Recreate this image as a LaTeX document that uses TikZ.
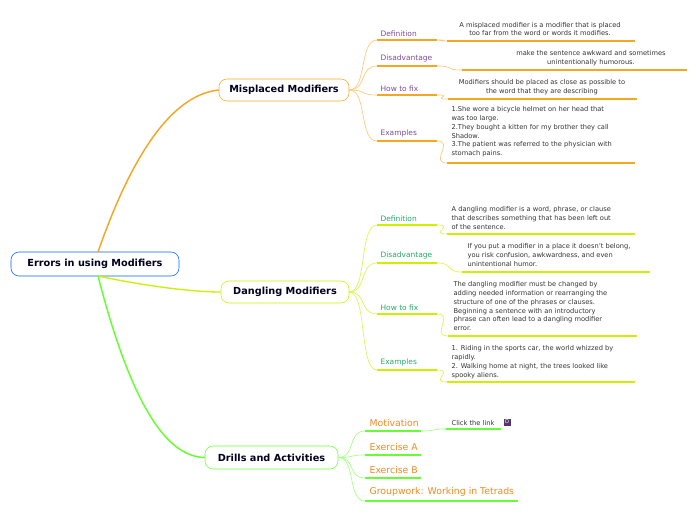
\documentclass[tikz,border=0pt]{standalone}
\usepackage{fontspec}
\setmainfont{DejaVu Sans}
\begin{document}
\begin{tikzpicture}[x=0.75pt,y=-0.75pt,
  leaf/.style={font=\fontsize{5}{6.6}\selectfont,text=black!80,inner sep=1pt},
  lab/.style={font=\fontsize{5.6}{7}\selectfont,inner sep=1pt,anchor=south west},
  big/.style={font=\fontsize{7}{8}\selectfont,inner sep=1pt,anchor=south west},
  main/.style={draw,rounded corners=6pt,font=\bfseries\fontsize{7.3}{9}\selectfont,text=black!80!blue!60!black,inner sep=0pt}]
\definecolor{orng}{HTML}{F5A623}
\definecolor{ylw}{HTML}{CCF000}
\definecolor{grn}{HTML}{66FF33}
\definecolor{purp}{HTML}{7B4A9C}
\definecolor{dgrn}{HTML}{22AA66}
\definecolor{lorng}{HTML}{F08A24}
\useasboundingbox (0,0) rectangle (696,520);
% main nodes
\node[main,draw=blue!60!cyan,minimum width=168*0.75pt,minimum height=24*0.75pt,fill=white] (root) at (95,264) {Errors in using Modifiers};
\node[main,draw=orng,minimum width=130*0.75pt,minimum height=22*0.75pt] (mis) at (284,90) {Misplaced Modifiers};
\node[main,draw=ylw,minimum width=128*0.75pt,minimum height=22*0.75pt] (dan) at (285,292) {Dangling Modifiers};
\node[main,draw=grn,minimum width=133*0.75pt,minimum height=23*0.75pt] (dri) at (271.5,457.5) {Drills and Activities};
\coordinate (r1) at (98,252);
\coordinate (r2) at (98,276);
\draw[orng,line width=1.1pt] (r1) .. controls (130,160) and (170,95) .. (mis.west);
\draw[ylw,line width=1pt] (r2) .. controls (140,285) and (190,292) .. (dan.west);
\draw[grn,line width=1.1pt] (r2) .. controls (130,400) and (165,457) .. (dri.west);
% helper: name, x1, x2, y, colour, style
\newcommand\ul[5]{\coordinate (#1a) at (#2,#4);\coordinate (#1b) at (#3,#4);\draw[#5,line width=1pt] (#1a) -- (#1b);}
\newcommand\curv[3]{\draw[#3,line width=0.5pt] (#1) .. controls ++(18,0) and ++(-18,0) .. (#2);}
% Misplaced
\ul{md}{377}{437}{40}{orng}\ul{ms}{377}{437}{66}{orng}\ul{mh}{377}{437}{95}{orng}\ul{me}{377}{437}{141}{orng}
\node[lab,text=purp] (mdl) at (379,38) {Definition};
\node[lab,text=purp] (msl) at (379,64) {Disadvantage};
\node[lab,text=purp] (mhl) at (379,93) {How to fix};
\node[lab,text=purp] (mel) at (379,139) {Examples};
\foreach \c in {mda,msa,mha,mea} \curv{mis.east}{\c}{orng!60};
\ul{mld}{447}{635}{41}{orng}\ul{mls}{462}{687}{70}{orng}\ul{mlh}{448}{637}{99}{orng}\ul{mle}{447}{635}{163}{orng}
\curv{mdb}{mlda}{orng!60}\curv{msb}{mlsa}{orng!60}\curv{mhb}{mlha}{orng!60}\curv{meb}{mlea}{orng!60}
\node[leaf,align=center] (t1) at (540,29) {A misplaced modifier is a modifier that is placed\\too far from the word or words it modifies.};
\node[leaf,align=center] (t2) at (591,58) {make the sentence awkward and sometimes\\unintentionally humorous.};
\node[leaf,align=center] (t3) at (542,87) {Modifiers should be placed as close as possible to\\the word that they are describing};
\node[leaf,align=left,anchor=north west] (t4) at (450,105) {1.She wore a bicycle helmet on her head that\\was too large.\\2.They bought a kitten for my brother they call\\Shadow.\\3.The patient was referred to the physician with\\stomach pains.};
% Dangling
\ul{dd}{377}{437}{225}{ylw}\ul{ds}{377}{437}{263}{ylw}\ul{dh}{377}{437}{314}{ylw}\ul{de}{377}{437}{370}{ylw}
\node[lab,text=dgrn] (ddl) at (379,223) {Definition};
\node[lab,text=dgrn] (dsl) at (379,261) {Disadvantage};
\node[lab,text=dgrn] (dhl) at (379,312) {How to fix};
\node[lab,text=dgrn] (del) at (379,368) {Examples};
\foreach \c in {dda,dsa,dha,dea} \curv{dan.east}{\c}{ylw!70};
\ul{dld}{447}{635}{234}{ylw}\ul{dls}{462}{650}{272}{ylw}\ul{dlh}{448}{637}{336}{ylw}\ul{dle}{447}{635}{382}{ylw}
\curv{ddb}{dlda}{ylw!70}\curv{dsb}{dlsa}{ylw!70}\curv{dhb}{dlha}{ylw!70}\curv{deb}{dlea}{ylw!70}
\node[leaf,align=left,anchor=north west] (u1) at (450,205) {A dangling modifier is a word, phrase, or clause\\that describes something that has been left out\\of the sentence.};
\node[leaf,align=left,anchor=north west] (u2) at (466,242) {If you put a modifier in a place it doesn't belong,\\you risk confusion, awkwardness, and even\\unintentional humor.};
\node[leaf,align=left,anchor=north west] (u3) at (452,280) {The dangling modifier must be changed by\\adding needed information or rearranging the\\structure of one of the phrases or clauses.\\Beginning a sentence with an introductory\\phrase can often lead to a dangling modifier\\error.};
\node[leaf,align=left,anchor=north west] (u4) at (450,344) {1. Riding in the sports car, the world whizzed by\\rapidly.\\2. Walking home at night, the trees looked like\\spooky aliens.};
% Drills
\ul{gm}{365}{421}{431}{grn}\ul{ga}{365}{421}{455}{grn}\ul{gb}{365}{421}{478}{grn}\ul{gg}{365}{518}{501}{grn}
\node[big,text=lorng] (gml) at (368,428) {Motivation};
\node[big,text=lorng] (gal) at (368,452) {Exercise A};
\node[big,text=lorng] (gbl) at (368,475) {Exercise B};
\node[big,text=lorng] (ggl) at (368,498) {Groupwork: Working in Tetrads};
\foreach \c in {gma,gaa,gba,gga} \curv{dri.east}{\c}{grn!60};
\ul{gc}{446}{501}{429}{grn}
\curv{gmb}{gca}{grn!60}
\node[leaf,anchor=south west] (click) at (450,427) {Click the link};
\node[fill=purp!70!black,minimum size=7*0.75pt,inner sep=0pt,text=white,font=\fontsize{4}{4}\selectfont] (ic) at (507,422) {O};
\end{tikzpicture}
\end{document}
